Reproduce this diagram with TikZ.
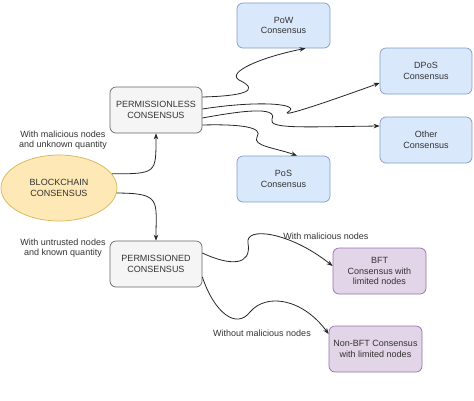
\documentclass[tikz,border=0pt]{standalone}
\usepackage{fontspec}
\setmainfont{Liberation Sans}
\usepackage{xcolor}
\usetikzlibrary{arrows.meta, positioning, shapes.geometric}

\definecolor{greyfill}{HTML}{F5F5F5}
\definecolor{greyline}{HTML}{666666}
\definecolor{yellowfill}{HTML}{FDE8B6}
\definecolor{yellowline}{HTML}{D6B656}
\definecolor{bluefill}{HTML}{DAE8FC}
\definecolor{blueline}{HTML}{7F9CC9}
\definecolor{purplefill}{HTML}{E1D5E7}
\definecolor{purpleline}{HTML}{9673A6}
\definecolor{textgrey}{HTML}{333333}

\begin{document}
\begin{tikzpicture}[x=1pt, y=-1pt,
    every node/.style={font=\fontsize{9}{10.5}\selectfont, text=textgrey, align=center},
    box/.style={rectangle, rounded corners=6pt, minimum width=92pt, minimum height=46pt, line width=0.7pt},
    kind/.style={box, draw=greyline, fill=greyfill},
    algo/.style={box, draw=blueline, fill=bluefill},
    limited/.style={box, draw=purpleline, fill=purplefill, minimum width=93pt},
    link/.style={-{Stealth[length=6pt, width=4.5pt]}, line width=0.8pt, draw=black!85},
    note/.style={inner sep=1pt}]
    \useasboundingbox (0,0) rectangle (474,400);

    % Root
    \node[ellipse, draw=yellowline, fill=yellowfill, line width=0.7pt,
          minimum width=116pt, minimum height=66pt] (chain) at (59,188) {BLOCKCHAIN\\CONSENSUS};

    % Two kinds of consensus
    \node[kind] (less) at (156,110) {PERMISSIONLESS\\CONSENSUS};
    \node[kind] (ned) at (156,264) {PERMISSIONED\\CONSENSUS};

    % Permissionless algorithms
    \node[algo, minimum width=93pt, minimum height=45pt] (pow) at (283.5,25.5) {PoW\\Consensus};
    \node[algo] (dpos) at (426,71) {DPoS\\Consensus};
    \node[algo] (other) at (426,140) {Other\\Consensus};
    \node[algo, minimum width=93pt] (pos) at (283.5,179) {PoS\\Consensus};

    % Permissioned algorithms
    \node[limited] (bft) at (379.5,271) {BFT\\Consensus with\\limited nodes};
    \node[limited] (nonbft) at (375.5,349) {Non-BFT Consensus\\with limited nodes};

    % Edge labels
    \node[note] (lessnote) at (63,140) {With malicious nodes\\and unknown quantity};
    \node[note] (nednote) at (63,248) {With untrusted nodes\\and known quantity};
    \node[note] (bftnote) at (326,236) {With malicious nodes};
    \node[note] (nonbftnote) at (262,333) {Without malicious nodes};

    % Root to kinds
    \draw[link] (chain.15) .. controls +(45,0) and +(0,40) .. (less.south);
    \draw[link] (chain.-5) .. controls +(45,0) and +(0,-40) .. (ned.north);

    % Permissionless to algorithms
    \draw[link] ([yshift=13pt]less.east) .. controls (242,96) and (262,91) .. (239,80)
        .. controls (226,72) and (262,57) .. ([xshift=22pt]pow.south);
    \draw[link] ([yshift=1pt]less.east) .. controls (260,100) and (302,104) .. (288,112)
        .. controls (280,118) and (330,101) .. ([yshift=-12pt]dpos.west);
    \draw[link] ([yshift=-8pt]less.east) .. controls (240,111) and (278,106) .. (272,119)
        .. controls (268,129) and (300,127) .. ([yshift=14pt]other.west);
    \draw[link] ([yshift=-15pt]less.east) .. controls (240,124) and (264,127) .. (257,137)
        .. controls (252,146) and (276,148) .. ([xshift=13.5pt]pos.north);

    % Permissioned to algorithms
    \draw[link] ([yshift=11pt]ned.east) .. controls (230,266) and (252,266) .. (248,243)
        .. controls (245,226) and (290,232) .. ([yshift=5pt]bft.west);
    \draw[link] ([yshift=-13pt]ned.east) .. controls (214,312) and (236,330) .. (250,312)
        .. controls (266,293) and (302,298) .. ([yshift=15pt]nonbft.west);
\end{tikzpicture}
\end{document}
